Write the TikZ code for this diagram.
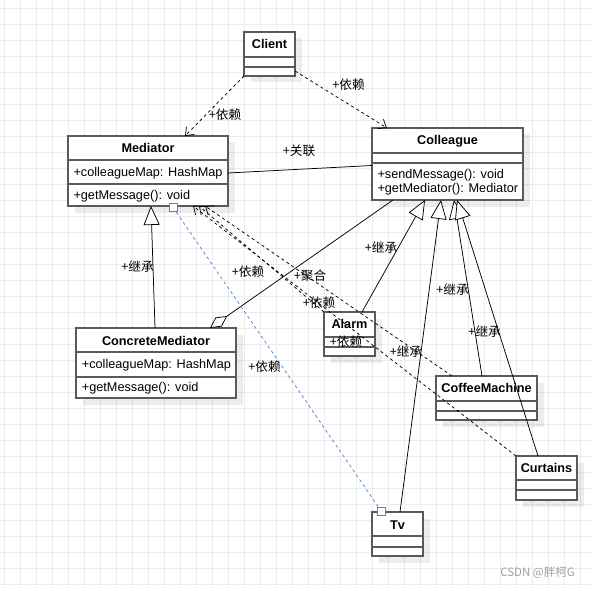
\documentclass[tikz,border=0pt]{standalone}
\usepackage{fontspec}
\setmainfont{Liberation Sans}
\newfontfamily\cjk{Noto Sans CJK SC}
\usetikzlibrary{arrows.meta}
\definecolor{gridc}{HTML}{ECECEC}
\definecolor{boxc}{HTML}{5A5A5A}
\definecolor{selc}{HTML}{4A86DA}
\definecolor{wmc}{HTML}{A0A0A0}
\tikzset{
  classbox/.style={draw=boxc, line width=1.3pt, fill=white, rectangle, inner sep=0pt, outer sep=0pt, anchor=north west},
  sepline/.style={draw=boxc, line width=1.3pt},
  shadowbox/.style={fill=black, fill opacity=0.07},
  titletext/.style={font=\fontsize{12.7}{14}\selectfont\bfseries, inner sep=0pt, text height=9.1pt, text depth=0pt},
  membertext/.style={font=\fontsize{12.7}{14}\selectfont, inner sep=0pt, text height=9.1pt, text depth=0pt, anchor=west},
  lbltext/.style={font=\cjk\fontsize{12.7}{14}\selectfont, inner sep=0pt},
  conn/.style={draw=black, line width=0.75pt},
  depend/.style={conn, dash pattern=on 3pt off 3pt, -{Straight Barb[length=7pt,width=11pt]}},
  inherit/.style={conn, -{Triangle[fill=white,length=19pt,width=16pt]}},
  aggreg/.style={conn, {Diamond[fill=white,length=21pt,width=11pt]}-},
  selectededge/.style={draw=selc, line width=0.75pt, dash pattern=on 3pt off 3pt},
  selhandle/.style={draw=selc, fill=white, line width=0.75pt, minimum size=8pt, inner sep=0pt, outer sep=0pt, rectangle},
}
% name, x, y, w, h, sep1, sep2
\newcommand\umlbox[7]{%
  \fill[shadowbox] (#2+6.5,#3+6.5) rectangle ++(#4,#5);
  \node[classbox, minimum width=#4pt, minimum height=#5pt] (#1) at (#2,#3) {};
  \draw[sepline] ([yshift=-#6pt]#1.north west) -- ([yshift=-#6pt]#1.north east);
  \draw[sepline] ([yshift=-#7pt]#1.north west) -- ([yshift=-#7pt]#1.north east);
}
\begin{document}
\begin{tikzpicture}[x=1pt,y=-1pt]
\useasboundingbox (0,0) rectangle (593,588);
\fill[white] (0,0) rectangle (593,588);
% grid
\foreach \gx in {4,20,...,596} \draw[gridc, line width=0.9pt] (\gx,0) -- (\gx,588);
\foreach \gy in {8,24,...,588} \draw[gridc, line width=0.9pt] (0,\gy) -- (593,\gy);

% classes
\umlbox{client}{244}{32}{51}{44}{25}{35}
\umlbox{mediator}{68}{136}{160}{70}{24}{48}
\umlbox{colleague}{372}{128}{151}{72}{25}{35}
\umlbox{cm}{76}{328}{160}{70}{24}{49}
\umlbox{alarm}{324}{312}{51}{44}{25}{35}
\umlbox{coffee}{436}{376}{101}{44}{25}{35}
\umlbox{curtains}{516}{456}{61}{44}{24}{34}
\umlbox{tv}{372}{512}{51}{44}{24}{35}

\node[titletext] (client-t) at (269.5,44) {Client};
\node[titletext] (mediator-t) at (148,148.3) {Mediator};
\node[membertext] (mediator-a) at (73.3,172) {+colleagueMap: HashMap};
\node[membertext] (mediator-m) at (73.3,195) {+getMessage(): void};
\node[titletext] (colleague-t) at (447.5,140) {Colleague};
\node[membertext] (colleague-m1) at (377.3,173.7) {+sendMessage(): void};
\node[membertext] (colleague-m2) at (377.3,188.3) {+getMediator(): Mediator};
\node[titletext] (cm-t) at (156,340.5) {ConcreteMediator};
\node[membertext] (cm-a) at (81.7,363.7) {+colleagueMap: HashMap};
\node[membertext] (cm-m) at (81.7,387) {+getMessage(): void};
\node[titletext] (alarm-t) at (349.5,324) {Alarm};
\node[titletext] (coffee-t) at (486.5,388) {CoffeeMachine};
\node[titletext] (curtains-t) at (546.5,468.3) {Curtains};
\node[titletext] (tv-t) at (397.5,524.5) {Tv};

% connectors
\draw[depend] (client.south west) -- ([xshift=117pt]mediator.north west);
\draw[depend] ([yshift=5pt]client.south east) -- ([xshift=15pt]colleague.north west);
\draw[conn] ([yshift=-2pt]mediator.east) -- ([yshift=-1.5pt]colleague.west);
\draw[inherit] ([xshift=79pt]cm.north west) -- ([xshift=83pt]mediator.south west);
\draw[aggreg] ([xshift=134pt]cm.north west) -- ([xshift=21pt]colleague.south west);
\draw[depend] (alarm.north west) -- ([xshift=131pt]mediator.south west);
\draw[depend] ([xshift=16pt]coffee.north west) -- ([xshift=137pt]mediator.south west);
\draw[depend] (curtains.north west) -- ([xshift=125pt]mediator.south west);
\draw[inherit] ([xshift=38pt]alarm.north west) -- ([xshift=53pt]colleague.south west);
\draw[inherit] ([xshift=28pt]tv.north west) -- ([xshift=69pt]colleague.south west);
\draw[inherit] ([xshift=46pt]coffee.north west) -- ([xshift=82pt]colleague.south west);
\draw[inherit] ([xshift=22pt]curtains.north west) -- ([xshift=85pt]colleague.south west);
\draw[selectededge] ([xshift=105pt,yshift=-1.3pt]mediator.south west) -- ([xshift=9.5pt,yshift=0.5pt]tv.north west);
\node[selhandle] (hnd1) at ([xshift=105pt,yshift=-1.3pt]mediator.south west) {};
\node[selhandle] (hnd2) at ([xshift=9.5pt,yshift=0.5pt]tv.north west) {};

% labels
\node[lbltext] (lb1) at (225,115) {+依赖};
\node[lbltext] (lb2) at (348.5,85) {+依赖};
\node[lbltext] (lb3) at (299,151) {+关联};
\node[lbltext] (lb4) at (137.5,266.7) {+继承};
\node[lbltext] (lb5) at (310,275.5) {+聚合};
\node[lbltext] (lb6) at (248,272) {+依赖};
\node[lbltext] (lb7) at (319,303) {+依赖};
\node[lbltext] (lb8) at (346,341.7) {+依赖};
\node[lbltext] (lb9) at (264.5,366.7) {+依赖};
\node[lbltext] (lb10) at (381,247.5) {+继承};
\node[lbltext] (lb11) at (452.5,289.7) {+继承};
\node[lbltext] (lb12) at (484.7,331.3) {+继承};
\node[lbltext] (lb13) at (406,352) {+继承};

% watermark
\node[font=\cjk\fontsize{11.5}{13}\selectfont, text=wmc, inner sep=0pt] (wm) at (537.5,572.5) {CSDN @胖柯G};
\end{tikzpicture}
\end{document}
